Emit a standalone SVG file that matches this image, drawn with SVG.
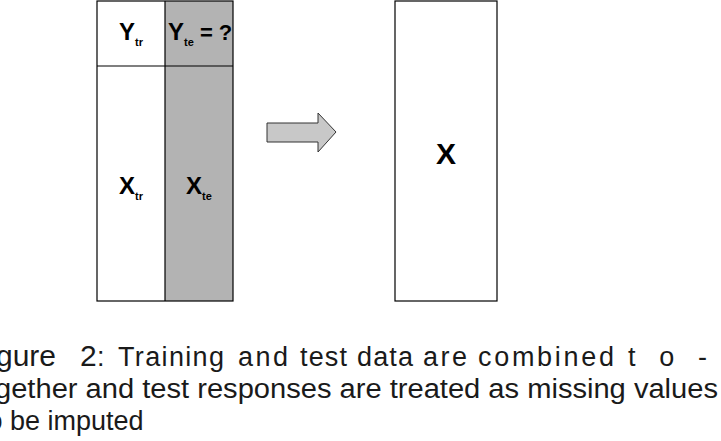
<svg xmlns="http://www.w3.org/2000/svg" width="721" height="441" viewBox="0 0 721 441">
<style>
.b{stroke:#000;stroke-width:1.2}
.l{font-family:"Liberation Sans",Arial,sans-serif;font-weight:bold;fill:#000}
.c{font-family:"Liberation Sans",Arial,sans-serif;fill:#1a1a1a;font-size:27px}
</style>
<rect width="721" height="441" fill="#fff"/>
<g id="table">
<rect x="165" y="1" width="68" height="300" fill="#b3b3b3"/>
<rect x="97" y="1" width="136" height="300" fill="none" class="b"/>
<line x1="165" y1="1" x2="165" y2="301" class="b"/>
<line x1="97" y1="66" x2="233" y2="66" class="b"/>
<text class="l" font-size="24" x="119" y="40">Y<tspan font-size="11" dy="6">tr</tspan></text>
<text class="l" font-size="24" x="168" y="40">Y<tspan font-size="11" dy="6">te</tspan><tspan dy="-6" font-size="22"> = ?</tspan></text>
<text class="l" font-size="24" x="119" y="194">X<tspan font-size="11" dy="6">tr</tspan></text>
<text class="l" font-size="24" x="186" y="194">X<tspan font-size="11" dy="6">te</tspan></text>
</g>
<g id="arrow">
<polygon points="267,123 318,123 318,113 336,132 318,152 318,142 267,142" fill="#c8c8c8" stroke="#333" stroke-width="1"/>
</g>
<g id="result">
<rect x="395" y="1" width="102" height="300" fill="#fff" class="b"/>
<text class="l" font-size="30" x="446" y="164" text-anchor="middle">X</text>
</g>
<g id="caption">
<text class="c" y="366"><tspan x="-29" font-size="30">Figure</tspan><tspan x="80" font-size="30">2</tspan><tspan x="97">:</tspan><tspan x="118" textLength="106">Training</tspan><tspan x="238" textLength="50">and</tspan><tspan x="300" textLength="47">test</tspan><tspan x="357" textLength="56">data</tspan><tspan x="423" textLength="44">are</tspan><tspan x="478" textLength="136">combined</tspan><tspan x="628" textLength="79">to-</tspan></text>
<text class="c" x="-5" y="398" textLength="723" lengthAdjust="spacingAndGlyphs">gether and test responses are treated as missing values</text>
<text class="c" x="-20" y="430">to be imputed</text>
</g>
</svg>
